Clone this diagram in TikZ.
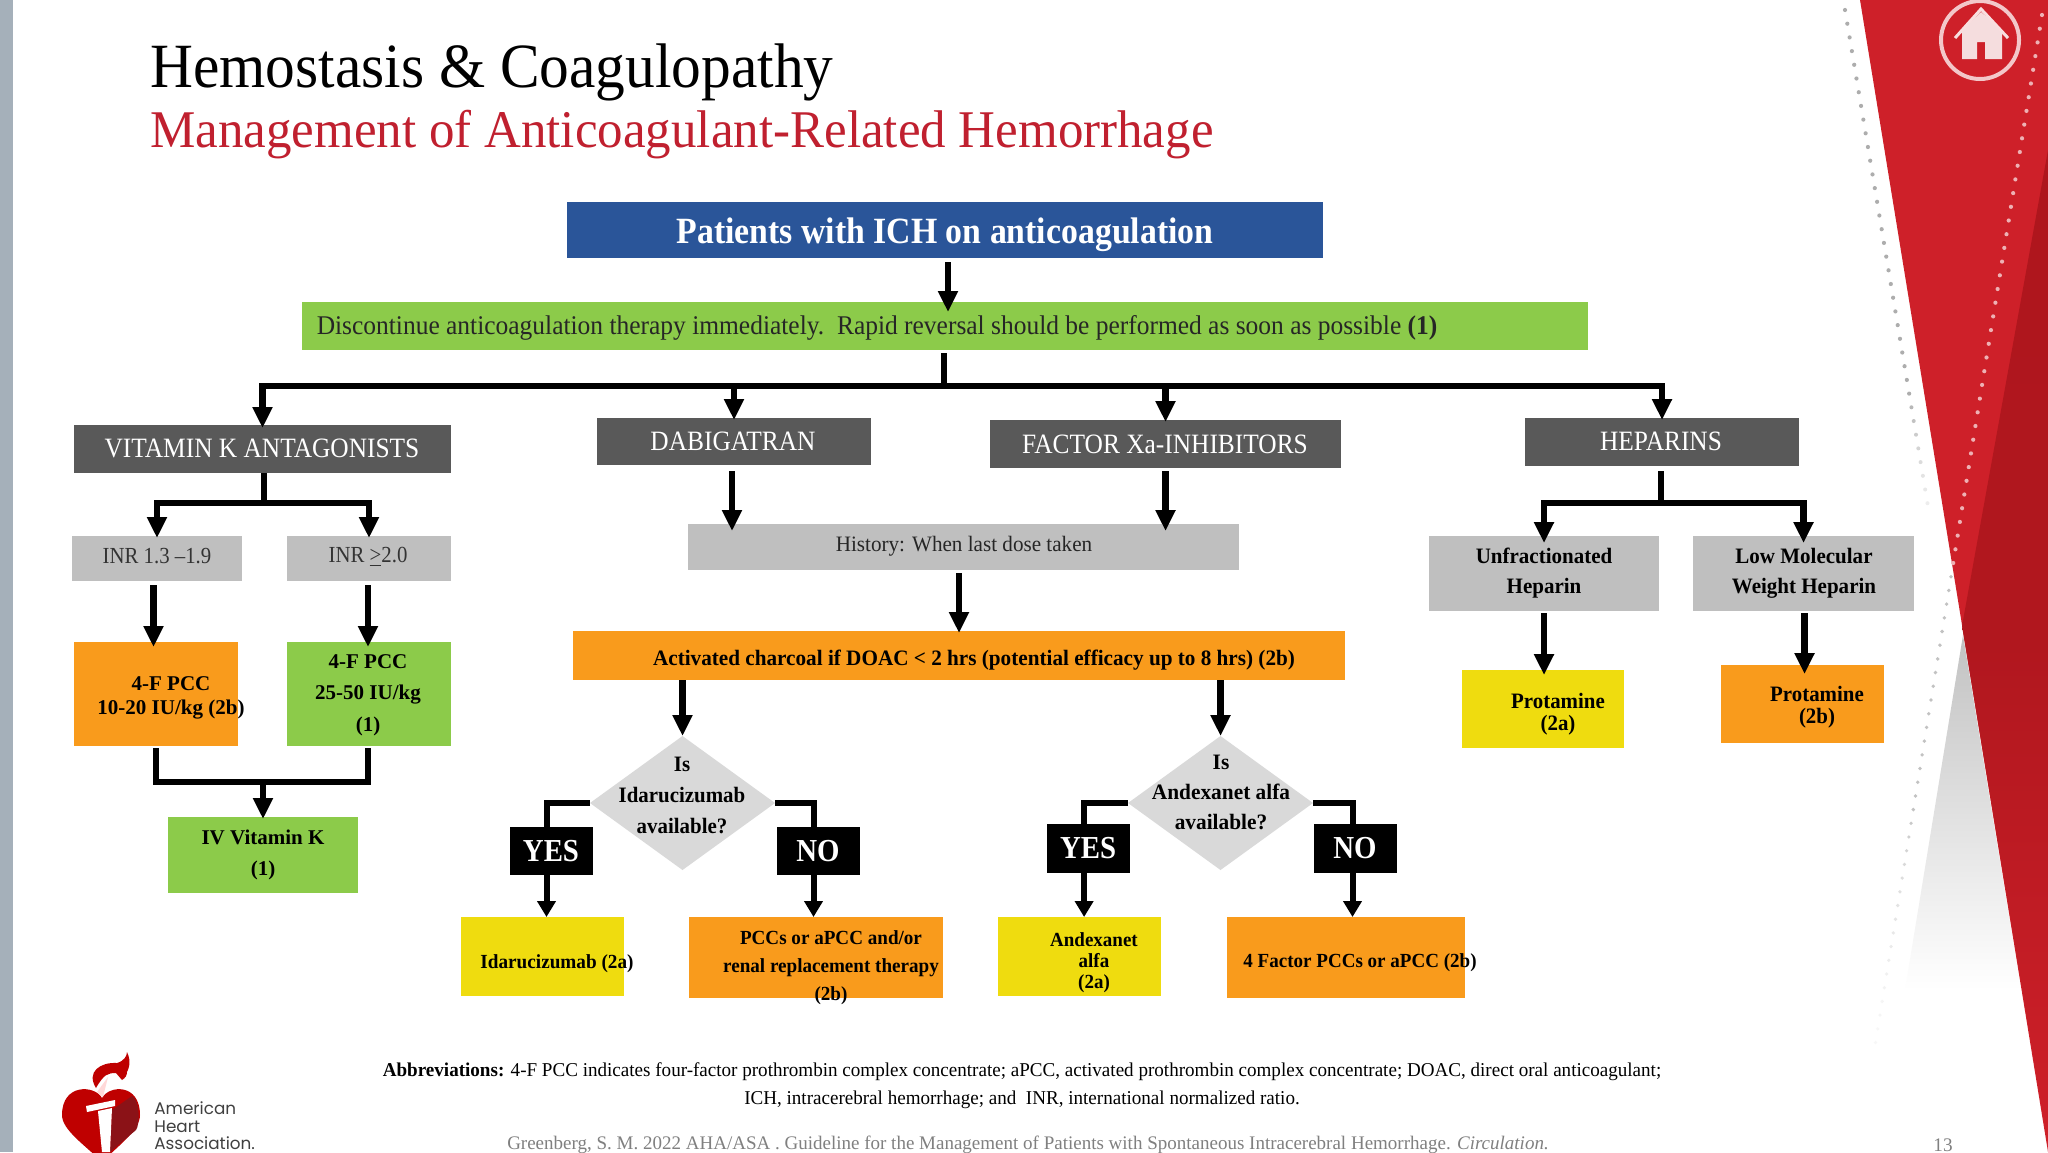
\documentclass[tikz,border=0pt]{standalone}
\usepackage{fontspec}
\setmainfont{Liberation Serif}
\newfontfamily\sansf{Poppins}
\usetikzlibrary{arrows.meta,shapes.geometric,calc}
\definecolor{cblue}{HTML}{2A5599}
\definecolor{cgreen}{HTML}{8CCB4A}
\definecolor{corange}{HTML}{F99B1C}
\definecolor{cyellow}{HTML}{EFDC0F}
\definecolor{cdark}{HTML}{595959}
\definecolor{clight}{HTML}{BFBFBF}
\definecolor{cdia}{HTML}{D9D9D9}
\definecolor{cbar}{HTML}{A5B0BA}
\definecolor{cred}{HTML}{CE2029}
\definecolor{cdeep}{HTML}{AE161D}
\definecolor{ctitle}{HTML}{C0202F}
\newcommand{\fs}[2]{\fontsize{#1}{#2}\selectfont}
\newcommand{\st}[1]{\addfontfeature{FakeStretch=#1}}
\newcommand{\bx}[6]{\node[boxbase,#6,minimum width={(#4-#2)*0.5pt},minimum height={(#5-#3)*0.5pt}] (#1) at ({(#2+#4)/2},{(#3+#5)/2}) {};}
\newcommand{\tx}[5]{\node[txtb,#4] (#1) at (#2,#3) {#5};}
\tikzset{
  boxbase/.style={draw=none,inner sep=0pt,outer sep=0pt},
  txtb/.style={inner sep=0pt,outer sep=0pt,align=center},
  gbox/.style={fill=cgreen},
  obox/.style={fill=corange},
  ybox/.style={fill=cyellow},
  dbox/.style={fill=cdark},
  lbox/.style={fill=clight},
  kbox/.style={fill=black},
  dia/.style={shape=diamond,fill=cdia},
  lin/.style={line width=3.3pt,black},
  arw/.style={lin,-{Triangle[length=10.5pt,width=9.5pt]}},
  thin lin/.style={line width=3pt,black},
  thin arw/.style={thin lin,-{Triangle[length=8pt,width=9pt]}},
  dtext/.style={text=white,font=\fs{14}{17}\st{.907}},
  ltext/.style={text=black!80,font=\fs{11.5}{14}\st{.905}},
  btext/.style={text=black},
  yntext/.style={text=white,font=\bfseries\fs{16}{18}\st{.9}},
}
\begin{document}
\begin{tikzpicture}[x=0.5pt,y=-0.5pt]
\useasboundingbox (0,0) rectangle (2048,1152);
\clip (0,0) rectangle (2048,1152);
\fill[white] (0,0) rectangle (2048,1152);
\fill[cbar] (0,0) rectangle (13,1152);
% right decoration
\shade[top color=black!24,bottom color=white] (1963,635) -- (1905,990) -- (2021,990) -- cycle;
\fill[cred] (1860,0) -- (2048,1152) -- (2048,0) -- cycle;
\shade[top color=cdeep,bottom color=cred,middle color=cdeep!90!cred] (2048,150) -- (1962,626) -- (2048,1145) -- cycle;
\foreach \i in {0,...,28}{\fill[black!32] ({1845+\i*2.29},{10+\i*13.7}) circle (2.1);}
\foreach \i/\o in {29/28,30/24,31/20,32/17,33/14,34/11,35/9,36/7}{\fill[black!\o] ({1845+\i*2.29},{10+\i*13.7}) circle (2);}
\foreach \i in {0,...,40}{\fill[cred!35!white] ({2042-\i*2.22},{15+\i*13.7}) circle (2.1);}
\foreach \i in {41,...,58}{\fill[black!24] ({2042-\i*2.22},{15+\i*13.7}) circle (1.9);}
\foreach \i/\o in {59/21,60/19,61/17,62/15,63/13,64/12,65/11,66/10,67/9,68/8,69/7,70/6,71/5,72/4,73/4,74/3,75/3}{\fill[black!\o] ({2042-\i*2.22},{15+\i*13.7}) circle (1.8);}
% home icon
\draw[cred!25!white,line width=2pt] (1980,40) circle (39);
\fill[black!10!cred!15!white] (1962,30) -- (1981,12) -- (2002,30) -- (2002,59) -- (1985,59) -- (1985,42) -- (1977,42) -- (1977,59) -- (1962,59) -- cycle;
\draw[cred!15!white,line width=1.5pt] (1955,38) -- (1981,9) -- (2008,38);
% titles
\node[anchor=base west,inner sep=0pt,font=\fs{31.5}{32}\st{.943},text=black] (title) at (150,87) {Hemostasis \& Coagulopathy};
\node[anchor=base west,inner sep=0pt,font=\fs{26.5}{30}\st{.962},text=ctitle] (subtitle) at (150,147) {Management of Anticoagulant-Related Hemorrhage};
% boxes
\bx{blue}{567}{202}{1323}{258}{fill=cblue}
\bx{banner}{302}{302}{1588}{350}{gbox}
\bx{vka}{74}{425}{451}{473}{dbox}
\bx{dab}{597}{418}{871}{465}{dbox}
\bx{fxa}{990}{420}{1341}{468}{dbox}
\bx{hep}{1525}{418}{1799}{466}{dbox}
\bx{inra}{72}{536}{242}{581}{lbox}
\bx{inrb}{287}{536}{451}{581}{lbox}
\bx{org}{74}{642}{238}{746}{obox}
\bx{grn}{287}{642}{451}{746}{gbox}
\bx{ivk}{168}{817}{358}{893}{gbox}
\bx{hist}{688}{524}{1239}{570}{lbox}
\bx{char}{573}{631}{1345}{680}{obox}
\bx{ufh}{1429}{536}{1659}{611}{lbox}
\bx{lmw}{1693}{536}{1914}{611}{lbox}
\bx{pra}{1462}{670}{1624}{748}{ybox}
\bx{prb}{1721}{665}{1884}{743}{obox}
\bx{dia1}{590}{736}{775}{870}{dia}
\bx{dia2}{1128}{736}{1313}{870}{dia}
\bx{yes1}{510}{827}{593}{875}{kbox}
\bx{no1}{777}{827}{860}{875}{kbox}
\bx{yes2}{1047}{824}{1130}{873}{kbox}
\bx{no2}{1314}{824}{1397}{873}{kbox}
\bx{ida}{461}{917}{624}{996}{ybox}
\bx{pcc}{689}{917}{943}{998}{obox}
\bx{and}{998}{917}{1161}{996}{ybox}
\bx{ffp}{1227}{917}{1465}{998}{obox}
% texts
\tx{tblue}{945}{235}{text=white,font=\bfseries\fs{18.5}{20}\st{.913}}{Patients with ICH on anticoagulation}
\tx{tbanner}{877}{328}{text=black!85,font=\fs{13.5}{16}\st{.943}}{Discontinue anticoagulation therapy immediately.\ \ Rapid reversal should be performed as soon as possible \textbf{(1)}}
\tx{tvka}{262}{448}{dtext}{VITAMIN K ANTAGONISTS}
\tx{tdab}{733}{441}{dtext}{DABIGATRAN}
\tx{tfxa}{1165}{444}{dtext}{FACTOR Xa-INHIBITORS}
\tx{thep}{1661}{441}{dtext}{HEPARINS}
\tx{tinra}{157}{556}{ltext}{INR 1.3 –1.9}
\tx{tinrb}{368}{557}{ltext}{INR \underline{>}2.0}
\tx{torg}{171}{698}{btext,font=\bfseries\fs{10.5}{12.2}}{4-F PCC\\10-20 IU/kg (2b)}
\tx{tgrn}{368}{695}{btext,font=\bfseries\fs{10.5}{15.7}}{4-F PCC\\25-50 IU/kg\\(1)}
\tx{tivk}{263}{855}{btext,font=\bfseries\fs{10.5}{15.7}}{IV Vitamin K\\(1)}
\tx{thist}{964}{546}{text=black!85,font=\fs{11}{14}\st{.96}}{History: When last dose taken}
\tx{tchar}{974}{660}{btext,font=\bfseries\fs{11}{14}\st{.963}}{Activated charcoal if DOAC < 2 hrs (potential efficacy up to 8 hrs) (2b)}
\tx{tufh}{1544}{573}{btext,font=\bfseries\fs{11}{15.2}\st{.955}}{Unfractionated\\Heparin}
\tx{tlmw}{1804}{573}{btext,font=\bfseries\fs{11}{15.2}\st{.955}}{Low Molecular\\Weight Heparin}
\tx{tpra}{1558}{714}{btext,font=\bfseries\fs{11}{11.2}\st{.95}}{Protamine\\(2a)}
\tx{tprb}{1817}{707}{btext,font=\bfseries\fs{11}{11.2}\st{.95}}{Protamine\\(2b)}
\tx{tdia1}{682}{795}{btext,font=\bfseries\fs{11}{15.5}\st{.95}}{Is\\Idarucizumab\\available?}
\tx{tdia2}{1221}{792}{btext,font=\bfseries\fs{11}{15}\st{.97}}{Is\\Andexanet alfa\\available?}
\tx{tyes1}{551}{851}{yntext}{YES}
\tx{tno1}{818}{851}{yntext}{NO}
\tx{tyes2}{1088}{848}{yntext}{YES}
\tx{tno2}{1355}{848}{yntext}{NO}
\tx{tida}{557}{964}{btext,font=\bfseries\fs{10}{12}\st{.96}}{Idarucizumab (2a)}
\tx{tpcc}{831}{968}{btext,font=\bfseries\fs{10}{14}\st{.955}}{PCCs or aPCC and/or\\renal replacement therapy\\(2b)}
\tx{tand}{1094}{963}{btext,font=\bfseries\fs{10}{10.5}\st{.95}}{Andexanet\\alfa\\(2a)}
\tx{tffp}{1360}{963}{btext,font=\bfseries\fs{10}{12}\st{.952}}{4 Factor PCCs or aPCC (2b)}
\tx{tabbr}{1022}{1086}{text=black,font=\fs{9.8}{14}\st{.973}}{\textbf{Abbreviations:} 4-F PCC indicates four-factor prothrombin complex concentrate; aPCC, activated prothrombin complex concentrate; DOAC, direct oral anticoagulant;\\ICH, intracerebral hemorrhage; and\ \ INR, international normalized ratio.}
\tx{tfoot}{1028}{1145}{text=black!50,font=\fs{9.6}{12}\st{.99}}{Greenberg, S. M. 2022 AHA/ASA . Guideline for the Management of Patients with Spontaneous Intracerebral Hemorrhage. \textit{Circulation.}}
\tx{tnum}{1943}{1145}{text=black!50,font=\fs{9.6}{12}}{13}
% connector junctions
\coordinate (busC) at (944,386);
\coordinate (vkaJ) at (264,503);
\coordinate (hepJ) at (1661,503);
\coordinate (mrgJ) at (263,782);
% connectors
\draw[arw,shorten <=2pt,shorten >=-5pt] ([xshift=1.5pt]blue.south) -- ([xshift=1.5pt]banner.north);
\draw[lin,shorten <=1.5pt] (banner.south -| busC) -- (busC);
\draw[arw,shorten >=-1.5pt] (busC) -| (vka.north);
\draw[arw,shorten >=-1pt] (busC) -| (dab.north);
\draw[arw,shorten >=-1pt] (busC) -| (fxa.north);
\draw[arw,shorten >=-1pt] (busC) -| (hep.north);
\draw[lin] (vka.south -| vkaJ) -- (vkaJ);
\draw[arw,shorten >=-1pt] (vkaJ) -| (inra.north);
\draw[arw,shorten >=-1pt] (vkaJ) -| (inrb.north);
\draw[arw,shorten <=2pt,shorten >=-2.5pt] ([xshift=-1.75pt]inra.south) -- ([xshift=-1.25pt]org.north);
\draw[arw,shorten <=2pt,shorten >=-2.5pt] ([xshift=-.5pt]inrb.south) -- ([xshift=-.5pt]grn.north);
\draw[lin,shorten <=1pt] (org.south) |- (mrgJ);
\draw[lin,shorten <=1pt] ([xshift=-.5pt]grn.south) |- (mrgJ);
\draw[arw,shorten >=-1pt] (mrgJ) -- (ivk.north);
\draw[arw,shorten <=3pt,shorten >=-3.5pt] ([xshift=-1pt]dab.south) -- ([xshift=-1pt]dab.south |- hist.north);
\draw[arw,shorten <=1.5pt,shorten >=-3.5pt] (fxa.south) -- (fxa.south |- hist.north);
\draw[arw,shorten <=1.5pt,shorten >=-1pt] (hist.south -| char.north) -- (char.north);
\draw[arw] (char.south -| dia1.north) -- (dia1.north);
\draw[arw] (char.south -| dia2.north) -- (dia2.north);
\draw[thin lin] (dia1.west) -| ([xshift=-2.5pt]yes1.north);
\draw[thin lin] (dia1.east) -| ([xshift=-2.5pt]no1.north);
\draw[thin lin] (dia2.west) -| ([xshift=-2.2pt]yes2.north);
\draw[thin lin] (dia2.east) -| ([xshift=-1.5pt]no2.north);
\draw[thin arw] ([xshift=-2.5pt]yes1.south) -- ([xshift=-2.5pt]yes1.south |- ida.north);
\draw[thin arw] ([xshift=-2.5pt]no1.south) -- ([xshift=-2.5pt]no1.south |- pcc.north);
\draw[thin arw] ([xshift=-2.2pt]yes2.south) -- ([xshift=-2.2pt]yes2.south |- and.north);
\draw[thin arw] ([xshift=-1.5pt]no2.south) -- ([xshift=-1.5pt]no2.south |- ffp.north);
\draw[lin,shorten <=2.5pt] (hep.south -| hepJ) -- (hepJ);
\draw[arw,shorten >=-3.5pt] (hepJ) -| (ufh.north);
\draw[arw,shorten >=-3.5pt] (hepJ) -| (lmw.north);
\draw[arw,shorten <=1pt,shorten >=-2.5pt] (ufh.south) -- (ufh.south |- pra.north);
\draw[arw,shorten <=1pt,shorten >=-4.5pt] ([xshift=.5pt]lmw.south) -- ([xshift=.5pt]lmw.south |- prb.north);
% logo
\fill[red!75!black] (102,1098) .. controls (95,1085) and (62,1083) .. (62,1115) .. controls (62,1130) and (85,1145) .. (102,1162) .. controls (119,1145) and (140,1130) .. (140,1115) .. controls (140,1083) and (109,1085) .. (102,1098) -- cycle;
\fill[cdeep!80!black] (112,1110) -- (132,1096) .. controls (140,1100) and (140,1125) .. (136,1130) -- (110,1152) -- cycle;
\fill[white] (86,1106) -- (115,1100) -- (115,1106) -- (87,1112) -- cycle;
\fill[white] (98,1111) -- (112,1108) -- (110,1152) -- (102,1152) -- cycle;
\fill[white!85!red] (97,1092) -- (108,1077) -- (103,1097) -- cycle;
\fill[red!75!black] (96,1088) .. controls (86,1072) and (100,1062) .. (117,1063) .. controls (124,1061) and (127,1056) .. (127,1052) .. controls (132,1062) and (128,1070) .. (127,1072) .. controls (127,1076) and (125,1078) .. (122,1080) -- (116,1073) .. controls (108,1073) and (104,1074) .. (96,1088) -- cycle;
\node[anchor=base west,inner sep=0pt,font=\sansf\fs{8.4}{9},text=black!75] (aha) at (154,1114) {American};
\node[anchor=base west,inner sep=0pt,font=\sansf\fs{8.4}{9},text=black!75] (ahb) at (154,1132) {Heart};
\node[anchor=base west,inner sep=0pt,font=\sansf\fs{8.4}{9},text=black!75] (ahc) at (154,1149) {Association.};
\end{tikzpicture}
\end{document}
